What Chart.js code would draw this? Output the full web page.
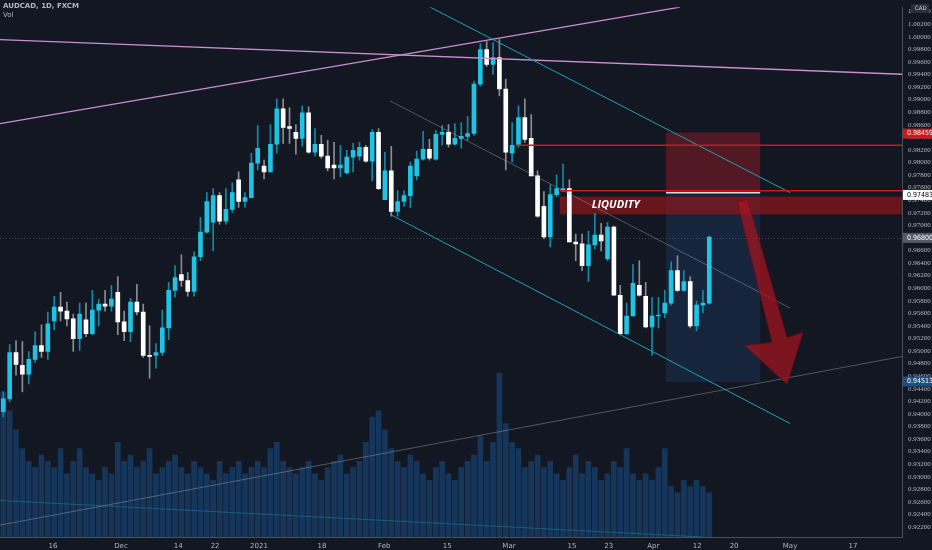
<!DOCTYPE html>
<html><head><meta charset="utf-8">
<script src="https://cdn.jsdelivr.net/npm/chart.js@4/dist/chart.umd.min.js"></script>
<style>html,body{margin:0;padding:0;background:#131722;}#c{display:block}</style>
</head><body><canvas id="c" width="932" height="550"></canvas>
<script>
// OHLC per daily bar [open, high, low, close]
const ohlc = [
[0.94034,0.94348,0.93955,0.94238],[0.94238,0.95102,0.94191,0.94976],[0.94976,0.95164,0.94615,0.94788],[0.94772,0.95149,0.94348,0.94631],
[0.94631,0.94992,0.94474,0.94866],[0.94866,0.95306,0.94819,0.95086],[0.95086,0.95416,0.94897,0.94992],[0.94992,0.9562,0.94866,0.95431],
[0.95478,0.95871,0.95337,0.95698],[0.95698,0.95934,0.95478,0.95635],[0.95635,0.95777,0.954,0.9551],[0.9551,0.95588,0.94992,0.95196],
[0.95196,0.95761,0.95007,0.95588],[0.95494,0.95761,0.95227,0.95274],[0.95274,0.95965,0.95259,0.95651],[0.95651,0.95824,0.954,0.95745],
[0.95745,0.95965,0.95635,0.95714],[0.95714,0.96044,0.95635,0.95824],[0.95934,0.96185,0.95259,0.95463],[0.95463,0.95635,0.95164,0.95306],
[0.95306,0.95839,0.95149,0.95777],[0.95777,0.96059,0.95573,0.9562],[0.9562,0.95745,0.94897,0.94929],[0.94929,0.954,0.94568,0.94913],
[0.94929,0.95117,0.94725,0.94976],[0.94976,0.95651,0.94929,0.95368],[0.95368,0.96091,0.9518,0.95965],[0.95965,0.96358,0.95855,0.96169],
[0.96216,0.9653,0.96028,0.96122],[0.96122,0.96248,0.95871,0.95949],[0.95949,0.96577,0.95871,0.96499],[0.96499,0.97127,0.96436,0.96891],
[0.96891,0.97519,0.96876,0.97378],[0.97048,0.97582,0.96593,0.97472],[0.97472,0.97519,0.97017,0.97064],[0.97064,0.97582,0.97017,0.97252],
[0.97252,0.97676,0.97205,0.97519],[0.97723,0.97849,0.97284,0.97378],[0.97378,0.97519,0.97284,0.97441],[0.97441,0.98147,0.97441,0.9799],
[0.9799,0.98587,0.9788,0.98226],[0.97943,0.98037,0.97739,0.97849],[0.97849,0.98603,0.97849,0.98289],[0.98289,0.99011,0.98147,0.98854],
[0.98854,0.99011,0.98304,0.98556],[0.98571,0.9887,0.98304,0.9854],[0.98477,0.98603,0.98132,0.98383],[0.98383,0.98901,0.98257,0.98791],
[0.98791,0.98885,0.98147,0.98163],[0.98163,0.9854,0.981,0.98289],[0.98289,0.9843,0.98069,0.981],[0.981,0.98351,0.97865,0.97912],
[0.97959,0.9832,0.97739,0.97912],[0.97912,0.98273,0.97771,0.97959],[0.97833,0.98194,0.97818,0.98085],[0.98085,0.98304,0.97849,0.98194],
[0.981,0.9832,0.98037,0.98242],[0.98242,0.98273,0.98006,0.98022],[0.98022,0.98524,0.97708,0.98477],[0.98477,0.9854,0.97566,0.97582],
[0.97409,0.98163,0.97409,0.97865],[0.97865,0.98257,0.97143,0.97221],[0.97221,0.97551,0.97143,0.97378],[0.97378,0.97551,0.973,0.97472],
[0.97472,0.98006,0.97284,0.97943],[0.97786,0.98179,0.97723,0.98053],[0.98053,0.98493,0.98037,0.9821],[0.9821,0.98367,0.98037,0.98069],
[0.98053,0.98508,0.98037,0.98446],[0.98446,0.98587,0.98273,0.98477],[0.98477,0.98603,0.98242,0.98289],[0.98289,0.98618,0.98273,0.98383],
[0.98383,0.98634,0.98226,0.98414],[0.98414,0.98728,0.98351,0.98461],[0.98461,0.99293,0.9843,0.99246],[0.99246,0.9989,0.99215,0.99796],
[0.99796,0.99921,0.99529,0.9956],[0.9956,0.99906,0.99403,0.9967],[0.9967,0.99953,0.99058,0.99168],[0.99168,0.99325,0.9788,0.98163],
[0.98147,0.98634,0.98006,0.98273],[0.98273,0.98901,0.98242,0.98713],[0.98713,0.99011,0.9832,0.98367],[0.98383,0.9876,0.97786,0.97786],
[0.97786,0.97865,0.97127,0.97143],[0.973,0.97535,0.96781,0.96813],[0.96813,0.97645,0.96656,0.97488],[0.97488,0.97802,0.97457,0.97582],
[0.97566,0.97975,0.97535,0.97582],[0.97582,0.97723,0.96734,0.96734],[0.96734,0.9686,0.96436,0.96703],[0.96703,0.9686,0.96279,0.96358],
[0.96358,0.96907,0.96106,0.96687],[0.96687,0.9719,0.96624,0.96844],[0.96844,0.97033,0.96593,0.9675],[0.96467,0.97048,0.96436,0.9697],
[0.9697,0.96986,0.95887,0.95887],[0.95887,0.96044,0.95259,0.95274],[0.95274,0.95761,0.95259,0.95557],[0.95557,0.96373,0.95557,0.96075],
[0.96044,0.96436,0.95871,0.95887],[0.95871,0.96091,0.95368,0.95384],[0.95384,0.95855,0.94929,0.95557],[0.95557,0.95855,0.95368,0.95573],
[0.95604,0.95965,0.95525,0.95761],[0.95761,0.9642,0.9573,0.96279],[0.96279,0.96515,0.95949,0.95965],[0.95965,0.96279,0.95949,0.96106],
[0.96106,0.96185,0.95368,0.954],[0.954,0.95792,0.95321,0.9573],[0.9573,0.95965,0.95604,0.95761],[0.95761,0.96829,0.95745,0.96813]
];
const volume = [115,100,85,70,60,55,65,60,55,70,50,
60,70,55,50,45,55,50,75,60,65,
55,60,70,50,55,60,65,55,50,60,
55,50,45,60,50,55,60,50,55,60,
55,70,75,60,55,50,55,60,50,45,
55,60,65,50,55,60,75,95,100,85,
70,60,55,65,60,50,45,55,60,50,
45,55,60,65,80,60,75,130,90,75,
70,55,60,65,55,60,50,45,55,65,
50,60,55,45,50,60,55,70,50,45,
50,45,55,70,40,35,45,40,45,40,35];
const xTickPos = [7.8,18.5,27.5,33.3,40.2,50.1,59.9,69.8,79.5,89.4,95.2,102.2,109.1,114.9,123.7,133.6];
const xTickLabels = ["16","Dec","14","22","2021","18","Feb","15","Mar","15","23","Apr","12","20","May","17"];
// drawings [x1,p1,x2,p2,color,width]
const trendLines = [
 [-0.52,0.98618,106.4,1.00471,'#c98fd0',1.3],
 [-0.52,0.99953,141.3,0.99403,'#c98fd0',1.3],
 [67.1,1.00471,123.7,0.97519,'#1aa3b8',1],
 [60.8,0.97174,123.7,0.93846,'#1aa3b8',1],
 [60.8,0.98979,123.7,0.95683,'rgba(160,165,175,0.45)',1],
 [-0.52,0.92229,141.3,0.94913,'rgba(160,165,175,0.45)',1],
 [-0.52,0.92621,110,0.92040,'rgba(26,163,184,0.4)',1]
];
const hLines = [[80.6,141.3,0.98273,'#d0161c',1.5],[87.5,141.3,0.97551,'#d0161c',1.5],[104.2,119.0,0.97519,'#e0e0e0',1.5]];
const boxes = [[104.2,119.0,0.98477,0.97519,'rgba(200,30,40,0.35)'],[104.2,119.0,0.97519,0.94505,'rgba(30,80,140,0.25)'],[87.5,141.3,0.97457,0.97174,'rgba(150,20,25,0.65)']];
const arrowShape = [[115.4,0.97378],[117.0,0.97409],[123.2,0.95211],[125.7,0.9529],[123.2,0.94474],[116.6,0.95086],[120.9,0.95133]];
const axisTags = [[0.98459,'#d0161c','#fff'],[0.97483,'#ffffff','#000'],[0.968,'#555a66','#fff'],[0.94513,'#1e4f80','#fff']];

const UP='#1fc3e3', DN='#ffffff';
const bodies = ohlc.map((d,i)=>({x:i,y:[d[0],d[3]]}));
const wicks = ohlc.map((d,i)=>({x:i,y:[d[2],d[1]]}));
const cols = ohlc.map(d=>d[3]>=d[0]?UP:DN);
const wickCols = ohlc.map(d=>d[3]>=d[0]?'#138aa6':'#8a8d94');
const FONT = '"Liberation Sans Narrow", "DejaVu Sans Condensed", sans-serif';

const overlay = {
 id:'overlay',
 beforeDatasetsDraw(ch){
   const c=ch.ctx, X=ch.scales.x, Y=ch.scales.y, a=ch.chartArea;
   c.save(); c.beginPath(); c.rect(a.left,a.top,a.right-a.left,a.bottom-a.top); c.clip();
   boxes.forEach(b=>{c.fillStyle=b[4]; const x1=X.getPixelForValue(b[0]),x2=X.getPixelForValue(b[1]),y1=Y.getPixelForValue(b[2]),y2=Y.getPixelForValue(b[3]); c.fillRect(x1,y1,x2-x1,y2-y1);});
   c.setLineDash([1,2]); c.strokeStyle='rgba(150,150,160,0.35)'; c.lineWidth=1;
   const yd=Math.round(Y.getPixelForValue(0.968))+0.5; c.beginPath(); c.moveTo(a.left,yd); c.lineTo(a.right,yd); c.stroke(); c.setLineDash([]);
   c.restore();
 },
 afterDatasetsDraw(ch){
   const c=ch.ctx, X=ch.scales.x, Y=ch.scales.y, a=ch.chartArea;
   c.save(); c.beginPath(); c.rect(a.left,a.top,a.right-a.left,a.bottom-a.top); c.clip();
   trendLines.forEach(l=>{c.strokeStyle=l[4]; c.lineWidth=l[5]; c.beginPath(); c.moveTo(X.getPixelForValue(l[0]),Y.getPixelForValue(l[1])); c.lineTo(X.getPixelForValue(l[2]),Y.getPixelForValue(l[3])); c.stroke();});
   hLines.forEach(h=>{c.strokeStyle=h[3]; c.lineWidth=h[4]; const y=Y.getPixelForValue(h[2]); c.beginPath(); c.moveTo(X.getPixelForValue(h[0]),y); c.lineTo(X.getPixelForValue(h[1]),y); c.stroke();});
   c.fillStyle='rgba(170,20,30,0.7)'; c.strokeStyle='rgba(120,10,20,0.8)'; c.lineWidth=1; c.beginPath();
   arrowShape.forEach((p,i)=>{const px=X.getPixelForValue(p[0]),py=Y.getPixelForValue(p[1]); i?c.lineTo(px,py):c.moveTo(px,py);}); c.closePath(); c.fill(); c.stroke();
   c.fillStyle='#ffffff'; c.font='italic bold 11px "Open Sans", sans-serif'; c.textAlign='center'; c.textBaseline='middle';
   c.fillText('LIQUDITY',X.getPixelForValue(96.3),Y.getPixelForValue(0.97331));
   c.restore();
   c.save(); c.font='7px '+FONT; c.textBaseline='middle'; c.textAlign='left';
   axisTags.forEach(t=>{const y=Y.getPixelForValue(t[0]); c.fillStyle=t[1]; c.fillRect(a.right+1,y-5,29,10); c.fillStyle=t[2]; c.fillText(t[0].toFixed(5),a.right+5,y);});
   c.fillStyle='#b2b5be'; c.font='bold 7px "DejaVu Sans", sans-serif'; c.fillText('AUDCAD, 1D, FXCM',3,6);
   c.font='7px "DejaVu Sans", sans-serif'; c.fillText('Vol',3,15);
   c.fillStyle='#2a2e39'; c.fillRect(a.right+9,4,18,9); c.fillStyle='#d1d4dc'; c.font='6px '+FONT; c.fillText('CAD',a.right+13,8.5);
   c.restore();
 }
};

new Chart(document.getElementById('c'),{
 type:'bar',
 data:{datasets:[
   {data:volume.map((v,i)=>({x:i,y:v})),yAxisID:'yv',backgroundColor:'rgba(24,78,136,0.55)',barThickness:5,grouped:false,order:3},
   {data:wicks,backgroundColor:wickCols,barThickness:1,grouped:false,order:2},
   {data:bodies,backgroundColor:cols,barThickness:4,grouped:false,minBarLength:1,order:1}
 ]},
 options:{responsive:false,devicePixelRatio:1,animation:false,
  layout:{padding:0},
  plugins:{legend:{display:false},tooltip:{enabled:false}},
  scales:{
   x:{type:'linear',min:-0.52,max:141.3,offset:false,
      afterBuildTicks:s=>{s.ticks=xTickPos.map(v=>({value:v}));},
      afterFit:s=>{s.height=13;},
      ticks:{color:'#b2b5be',font:{size:7,family:'DejaVu Sans'},maxRotation:0,autoSkip:false,padding:2,
        callback:(v)=>{const k=xTickPos.indexOf(v);return k>=0?xTickLabels[k]:'';}},
      grid:{display:false,drawTicks:true,tickLength:3,color:'#555'},border:{color:'#4a4e59'}},
   y:{position:'right',min:0.9204,max:1.0047,
      afterBuildTicks:s=>{const t=[];for(let k=461;k<=502;k++)t.push({value:k*0.002});s.ticks=t;},
      afterFit:s=>{s.width=30;},
      ticks:{color:'#b2b5be',font:{size:7,family:'Liberation Sans Narrow'},padding:3,callback:v=>v.toFixed(5)},
      grid:{display:false,drawTicks:true,tickLength:3},border:{color:'#4a4e59'}},
   yv:{display:false,min:0,max:420}
  }
 },
 plugins:[{id:'bg',beforeDraw(ch){ch.ctx.fillStyle='#131722';ch.ctx.fillRect(0,0,ch.width,ch.height);}},overlay]
});
</script></body></html>
